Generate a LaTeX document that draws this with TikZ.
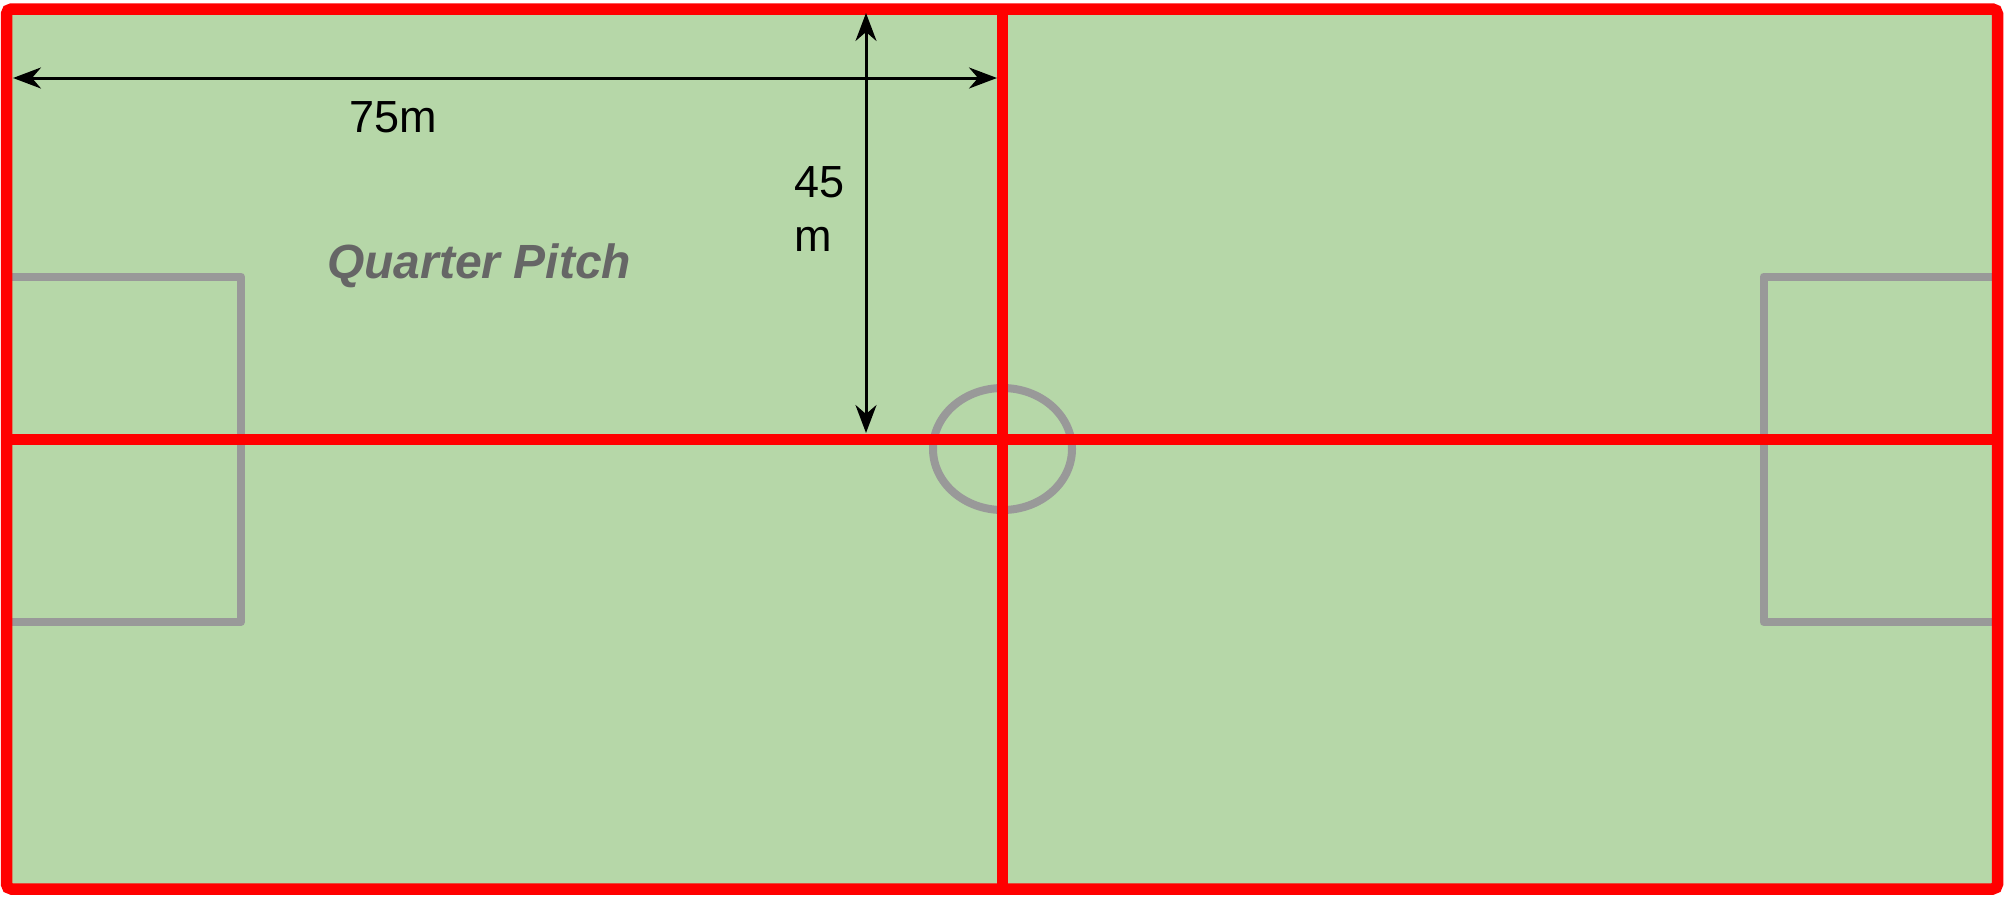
\documentclass[tikz,border=0pt]{standalone}
\usepackage{fontspec}
\setmainfont{Liberation Sans}
\usetikzlibrary{arrows.meta}
\definecolor{pitchgreen}{HTML}{B6D7A8}
\definecolor{pitchred}{HTML}{FF0000}
\definecolor{markgrey}{HTML}{999999}
\definecolor{labelgrey}{HTML}{666666}
\tikzset{
  redline/.style={draw=pitchred, line width=11.5pt},
  greyline/.style={draw=markgrey, line width=8pt, line join=round},
  dimarrow/.style={draw=black, line width=3pt, {Stealth[length=28pt,width=21pt,inset=9pt]}-{Stealth[length=28pt,width=21pt,inset=9pt]}},
  dimtext/.style={font=\fontsize{45}{54}\selectfont, text=black, inner sep=0pt},
  titletext/.style={font=\fontsize{48}{58}\selectfont\bfseries\itshape, text=labelgrey, inner sep=0pt}
}
\begin{document}
\begin{tikzpicture}[x=1pt,y=-1pt]
\useasboundingbox (0,0) rectangle (2010,900);
\fill[white] (0,0) rectangle (2010,900);
% pitch field
\fill[pitchgreen, rounded corners=5pt] (6.5,9) rectangle (1997.5,889);
% grey markings
\draw[greyline] (6.5,276.5) -- (241,276.5) -- (241,622) -- (6.5,622);
\draw[greyline] (1997.5,276.5) -- (1763.5,276.5) -- (1763.5,622) -- (1997.5,622);
\draw[greyline] (1002.5,449) ellipse [x radius=69.5, y radius=61];
% red quarter lines
\draw[redline] (1002.5,9) -- (1002.5,889);
\draw[redline] (6.5,439.5) -- (1997.5,439.5);
\draw[redline, rounded corners=5pt] (6.5,9) rectangle (1997.5,889);
% dimension arrows
\coordinate (hl) at (13,78);
\coordinate (hr) at (997,78);
\coordinate (vt) at (866,13);
\coordinate (vb) at (866,433);
\draw[dimarrow] (hl) -- (hr);
\draw[dimarrow] (vt) -- (vb);
% labels
\node[dimtext, anchor=base west] (len) at (349.5,132.7) {75m};
\node[dimtext, anchor=base west] (wid) at (794.5,197.7) {\begin{tabular}[t]{@{}l@{}}45\\m\end{tabular}};
\node[titletext, anchor=base west] (title) at (327,278.3) {Quarter Pitch};
\end{tikzpicture}
\end{document}
